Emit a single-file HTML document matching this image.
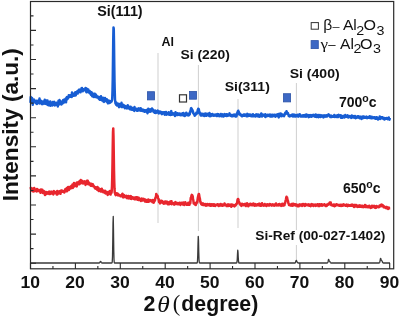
<!DOCTYPE html>
<html><head><meta charset="utf-8"><style>
html,body{margin:0;padding:0;background:#fff;width:400px;height:318px;overflow:hidden}
svg{display:block}
</style></head><body>
<svg width="400" height="318" viewBox="0 0 400 318">
<g stroke="#cfcfcf" stroke-width="1" fill="none">
<path d="M158 53V223"/><path d="M198.4 65V231"/><path d="M238 99V228"/><path d="M296.4 83V260"/>
</g>
<rect x="254" y="230" width="133" height="15" fill="#fff"/>
<path d="M30.50 102.9L30.75 97.1L31.00 100.9L31.25 99.7L31.50 99.9L31.75 100.2L32.00 98.0L32.25 100.3L32.50 99.5L32.75 104.8L33.00 101.0L33.25 100.3L33.50 100.5L33.75 100.0L34.00 99.6L34.25 100.5L34.50 101.6L34.75 100.8L35.00 102.3L35.25 100.9L35.50 101.3L35.75 103.2L36.00 102.0L36.25 100.8L36.50 101.2L36.75 102.2L37.00 104.0L37.25 101.3L37.50 101.4L37.75 103.0L38.00 100.7L38.25 101.5L38.50 103.0L38.75 102.6L39.00 102.1L39.25 102.9L39.50 98.6L39.75 103.4L40.00 101.0L40.25 100.1L40.50 102.6L40.75 103.2L41.00 101.8L41.25 101.0L41.50 102.4L41.75 102.4L42.00 104.2L42.25 103.4L42.50 102.8L42.75 104.0L43.00 102.4L43.25 101.5L43.50 103.4L43.75 103.4L44.00 102.5L44.25 101.8L44.50 103.1L44.75 99.8L45.00 103.7L45.25 103.5L45.50 101.0L45.75 103.1L46.00 101.9L46.25 104.0L46.50 100.6L46.75 102.0L47.00 104.0L47.25 104.6L47.50 100.6L47.75 102.7L48.00 103.7L48.25 102.6L48.50 105.3L48.75 102.0L49.00 103.9L49.25 102.2L49.50 105.2L49.75 103.5L50.00 103.1L50.25 101.5L50.50 105.7L50.75 104.6L51.00 104.6L51.25 105.1L51.50 104.2L51.75 103.0L52.00 102.8L52.25 102.9L52.50 105.5L52.75 102.1L53.00 103.2L53.25 103.5L53.50 104.2L53.75 104.6L54.00 102.4L54.25 101.9L54.50 103.9L54.75 105.4L55.00 104.8L55.25 104.1L55.50 103.5L55.75 104.2L56.00 103.5L56.25 104.7L56.50 102.7L56.75 103.8L57.00 103.4L57.25 104.2L57.50 103.7L57.75 106.4L58.00 105.1L58.25 105.0L58.50 100.7L58.75 102.7L59.00 102.3L59.25 103.6L59.50 100.1L59.75 104.2L60.00 103.9L60.25 101.0L60.50 101.3L60.75 101.4L61.00 102.3L61.25 102.9L61.50 104.5L61.75 101.7L62.00 102.7L62.25 101.9L62.50 103.6L62.75 102.3L63.00 102.9L63.25 99.9L63.50 100.8L63.75 99.9L64.00 102.5L64.25 101.4L64.50 100.1L64.75 99.7L65.00 100.7L65.25 99.1L65.50 98.7L65.75 100.1L66.00 102.3L66.25 98.9L66.50 98.3L66.75 97.4L67.00 97.0L67.25 99.0L67.50 99.1L67.75 97.9L68.00 98.1L68.25 97.6L68.50 97.5L68.75 95.3L69.00 96.4L69.25 96.8L69.50 95.6L69.75 95.8L70.00 95.2L70.25 95.6L70.50 96.8L70.75 95.2L71.00 95.3L71.25 96.3L71.50 95.9L71.75 97.0L72.00 92.5L72.25 95.8L72.50 94.1L72.75 94.7L73.00 95.3L73.25 95.5L73.50 95.3L73.75 94.1L74.00 95.7L74.25 93.4L74.50 93.4L74.75 94.3L75.00 92.6L75.25 95.6L75.50 94.2L75.75 95.4L76.00 92.7L76.25 92.1L76.50 92.6L76.75 93.1L77.00 91.5L77.25 92.4L77.50 91.8L77.75 93.6L78.00 90.8L78.25 92.6L78.50 90.5L78.75 90.1L79.00 90.2L79.25 89.6L79.50 91.0L79.75 91.9L80.00 90.8L80.25 91.2L80.50 92.3L80.75 90.7L81.00 90.5L81.25 89.9L81.50 88.3L81.75 91.0L82.00 88.1L82.25 90.8L82.50 90.1L82.75 91.3L83.00 90.0L83.25 89.1L83.50 90.5L83.75 89.5L84.00 89.9L84.25 90.2L84.50 90.0L84.75 90.0L85.00 89.3L85.25 90.1L85.50 88.0L85.75 90.3L86.00 89.2L86.25 91.9L86.50 92.2L86.75 88.7L87.00 91.2L87.25 91.0L87.50 90.0L87.75 92.0L88.00 91.0L88.25 89.6L88.50 91.5L88.75 91.7L89.00 92.1L89.25 90.8L89.50 93.0L89.75 93.2L90.00 91.3L90.25 91.9L90.50 92.7L90.75 92.3L91.00 95.0L91.25 93.4L91.50 92.2L91.75 92.6L92.00 93.5L92.25 96.3L92.50 93.6L92.75 94.1L93.00 94.6L93.25 94.2L93.50 96.9L93.75 93.9L94.00 95.4L94.25 94.9L94.50 95.5L94.75 93.7L95.00 97.1L95.25 95.1L95.50 95.4L95.75 94.5L96.00 94.8L96.25 96.4L96.50 97.0L96.75 96.9L97.00 97.5L97.25 97.1L97.50 96.5L97.75 97.5L98.00 97.4L98.25 96.8L98.50 97.8L98.75 98.6L99.00 97.5L99.25 97.0L99.50 98.3L99.75 99.8L100.00 97.6L100.25 97.9L100.50 97.9L100.75 99.6L101.00 96.3L101.25 98.9L101.50 99.9L101.75 97.8L102.00 100.5L102.25 99.6L102.50 98.5L102.75 99.5L103.00 97.7L103.25 98.9L103.50 101.6L103.75 98.8L104.00 101.9L104.25 99.9L104.50 101.2L104.75 100.3L105.00 97.9L105.25 99.8L105.50 100.8L105.75 99.4L106.00 99.3L106.25 101.3L106.50 100.3L106.75 99.3L107.00 100.5L107.25 102.3L107.50 100.9L107.75 102.5L108.00 103.3L108.25 101.8L108.50 100.6L108.75 100.5L109.00 102.0L109.25 103.0L109.50 102.4L109.75 102.8L110.00 101.8L110.25 102.6L110.50 101.8L110.75 102.0L111.00 101.1L111.25 100.9L111.50 101.6L111.75 100.9L112.00 100.1L112.25 98.1L112.50 91.1L112.75 79.4L113.00 59.9L113.25 39.6L113.50 27.5L113.75 29.0L114.00 43.5L114.25 64.4L114.50 81.6L114.75 92.1L115.00 99.7L115.25 101.4L115.50 103.7L115.75 102.6L116.00 102.4L116.25 105.0L116.50 102.8L116.75 104.1L117.00 105.5L117.25 104.3L117.50 104.2L117.75 104.5L118.00 105.4L118.25 103.7L118.50 105.3L118.75 105.3L119.00 107.2L119.25 104.5L119.50 104.0L119.75 105.8L120.00 104.6L120.25 105.4L120.50 105.3L120.75 106.5L121.00 104.6L121.25 105.3L121.50 102.8L121.75 104.6L122.00 107.2L122.25 105.0L122.50 105.0L122.75 104.6L123.00 106.5L123.25 106.2L123.50 104.9L123.75 106.8L124.00 106.5L124.25 107.1L124.50 105.7L124.75 108.2L125.00 106.9L125.25 106.5L125.50 106.1L125.75 106.5L126.00 107.7L126.25 106.6L126.50 108.0L126.75 107.6L127.00 108.4L127.25 108.0L127.50 107.1L127.75 105.3L128.00 107.6L128.25 108.2L128.50 107.6L128.75 108.1L129.00 107.1L129.25 107.3L129.50 106.8L129.75 109.2L130.00 108.0L130.25 107.4L130.50 106.7L130.75 107.9L131.00 109.6L131.25 108.7L131.50 107.5L131.75 109.7L132.00 109.8L132.25 109.4L132.50 109.3L132.75 109.7L133.00 109.2L133.25 109.5L133.50 108.0L133.75 110.3L134.00 109.1L134.25 110.9L134.50 107.0L134.75 109.8L135.00 110.1L135.25 108.8L135.50 109.7L135.75 110.0L136.00 109.9L136.25 108.8L136.50 109.2L136.75 110.4L137.00 110.7L137.25 109.6L137.50 109.6L137.75 109.8L138.00 110.6L138.25 108.6L138.50 108.4L138.75 109.8L139.00 108.7L139.25 109.2L139.50 109.9L139.75 110.3L140.00 108.9L140.25 110.7L140.50 108.3L140.75 110.5L141.00 108.5L141.25 108.9L141.50 110.7L141.75 109.7L142.00 109.4L142.25 109.8L142.50 110.7L142.75 110.2L143.00 110.3L143.25 111.3L143.50 109.7L143.75 110.0L144.00 110.0L144.25 111.6L144.50 111.4L144.75 111.7L145.00 110.5L145.25 110.5L145.50 111.4L145.75 110.3L146.00 111.4L146.25 111.4L146.50 110.1L146.75 110.7L147.00 110.7L147.25 112.4L147.50 113.2L147.75 110.8L148.00 110.9L148.25 108.8L148.50 111.1L148.75 111.0L149.00 110.0L149.25 111.7L149.50 109.6L149.75 110.8L150.00 111.1L150.25 109.9L150.50 111.7L150.75 111.7L151.00 109.3L151.25 109.1L151.50 110.6L151.75 109.8L152.00 108.5L152.25 109.2L152.50 109.3L152.75 109.4L153.00 110.5L153.25 110.4L153.50 111.9L153.75 111.9L154.00 111.6L154.25 112.2L154.50 112.6L154.75 112.2L155.00 110.6L155.25 112.4L155.50 111.7L155.75 113.0L156.00 111.6L156.25 111.8L156.50 111.5L156.75 112.6L157.00 111.1L157.25 110.7L157.50 111.2L157.75 110.6L158.00 111.3L158.25 111.3L158.50 111.8L158.75 113.4L159.00 111.6L159.25 112.2L159.50 112.1L159.75 113.0L160.00 111.5L160.25 112.0L160.50 112.6L160.75 113.1L161.00 112.7L161.25 112.3L161.50 112.1L161.75 113.3L162.00 114.1L162.25 113.2L162.50 113.1L162.75 113.3L163.00 112.2L163.25 112.8L163.50 112.8L163.75 113.3L164.00 113.1L164.25 112.2L164.50 114.1L164.75 114.6L165.00 113.0L165.25 113.6L165.50 113.5L165.75 114.0L166.00 112.1L166.25 114.7L166.50 113.0L166.75 114.4L167.00 113.5L167.25 113.1L167.50 113.4L167.75 114.2L168.00 112.8L168.25 113.2L168.50 113.2L168.75 112.2L169.00 114.7L169.25 114.1L169.50 113.6L169.75 114.6L170.00 112.9L170.25 113.6L170.50 115.1L170.75 114.5L171.00 112.0L171.25 111.1L171.50 113.0L171.75 114.7L172.00 113.5L172.25 113.7L172.50 114.3L172.75 113.2L173.00 114.1L173.25 114.5L173.50 114.3L173.75 114.2L174.00 113.5L174.25 114.4L174.50 113.6L174.75 115.0L175.00 116.0L175.25 113.4L175.50 112.3L175.75 113.7L176.00 114.3L176.25 114.9L176.50 114.9L176.75 113.5L177.00 113.5L177.25 115.1L177.50 113.3L177.75 115.0L178.00 114.0L178.25 114.8L178.50 114.7L178.75 114.8L179.00 114.8L179.25 113.5L179.50 114.5L179.75 114.3L180.00 114.5L180.25 115.2L180.50 114.1L180.75 113.8L181.00 113.8L181.25 114.1L181.50 114.9L181.75 113.7L182.00 115.2L182.25 114.6L182.50 114.2L182.75 113.4L183.00 114.5L183.25 114.9L183.50 113.1L183.75 115.2L184.00 115.6L184.25 114.6L184.50 114.7L184.75 116.1L185.00 115.3L185.25 113.7L185.50 114.4L185.75 114.3L186.00 114.3L186.25 112.7L186.50 115.0L186.75 114.0L187.00 114.5L187.25 114.3L187.50 115.1L187.75 114.2L188.00 113.9L188.25 114.8L188.50 115.4L188.75 114.1L189.00 115.2L189.25 114.2L189.50 113.3L189.75 114.3L190.00 112.0L190.25 112.5L190.50 110.5L190.75 110.3L191.00 108.4L191.25 108.1L191.50 109.3L191.75 108.8L192.00 109.3L192.25 109.7L192.50 111.2L192.75 110.9L193.00 111.8L193.25 113.2L193.50 113.2L193.75 113.6L194.00 114.3L194.25 114.4L194.50 114.4L194.75 115.7L195.00 115.3L195.25 115.4L195.50 114.5L195.75 114.2L196.00 113.4L196.25 114.0L196.50 112.5L196.75 113.1L197.00 113.4L197.25 113.2L197.50 111.9L197.75 109.9L198.00 110.1L198.25 108.8L198.50 109.7L198.75 109.2L199.00 110.3L199.25 112.2L199.50 111.9L199.75 113.7L200.00 113.0L200.25 113.3L200.50 114.9L200.75 115.4L201.00 114.2L201.25 114.7L201.50 113.8L201.75 114.6L202.00 115.4L202.25 114.7L202.50 114.4L202.75 113.9L203.00 115.1L203.25 115.4L203.50 115.2L203.75 115.0L204.00 114.0L204.25 116.0L204.50 114.8L204.75 114.8L205.00 115.4L205.25 113.5L205.50 114.8L205.75 114.8L206.00 115.1L206.25 115.8L206.50 115.2L206.75 113.7L207.00 114.7L207.25 115.1L207.50 115.0L207.75 114.1L208.00 113.9L208.25 115.3L208.50 115.2L208.75 114.9L209.00 113.8L209.25 116.1L209.50 113.1L209.75 114.7L210.00 116.3L210.25 114.9L210.50 115.1L210.75 114.2L211.00 115.9L211.25 114.2L211.50 115.2L211.75 115.1L212.00 114.3L212.25 115.6L212.50 114.1L212.75 114.6L213.00 115.0L213.25 114.8L213.50 115.3L213.75 115.6L214.00 114.9L214.25 114.7L214.50 114.7L214.75 114.8L215.00 115.6L215.25 114.9L215.50 115.3L215.75 115.0L216.00 114.5L216.25 115.7L216.50 114.4L216.75 115.1L217.00 116.1L217.25 114.4L217.50 115.1L217.75 114.1L218.00 114.8L218.25 114.2L218.50 114.9L218.75 114.8L219.00 115.2L219.25 116.2L219.50 115.3L219.75 115.6L220.00 115.1L220.25 115.0L220.50 114.6L220.75 114.0L221.00 115.2L221.25 116.3L221.50 115.5L221.75 114.9L222.00 116.3L222.25 114.9L222.50 114.8L222.75 114.4L223.00 114.6L223.25 115.1L223.50 116.5L223.75 115.1L224.00 114.6L224.25 114.9L224.50 115.1L224.75 114.1L225.00 115.3L225.25 115.7L225.50 115.5L225.75 115.7L226.00 114.4L226.25 114.2L226.50 116.1L226.75 116.0L227.00 114.3L227.25 115.4L227.50 115.3L227.75 115.7L228.00 115.5L228.25 115.0L228.50 115.5L228.75 115.4L229.00 115.3L229.25 114.1L229.50 113.4L229.75 114.8L230.00 114.3L230.25 115.5L230.50 115.8L230.75 115.5L231.00 115.1L231.25 115.4L231.50 116.1L231.75 114.9L232.00 116.0L232.25 115.8L232.50 115.5L232.75 116.3L233.00 114.9L233.25 116.0L233.50 114.8L233.75 114.9L234.00 114.7L234.25 115.7L234.50 114.7L234.75 115.4L235.00 114.6L235.25 116.1L235.50 116.5L235.75 115.5L236.00 116.3L236.25 115.5L236.50 116.4L236.75 114.7L237.00 113.2L237.25 114.6L237.50 112.8L237.75 111.6L238.00 111.4L238.25 110.7L238.50 111.9L238.75 111.8L239.00 114.1L239.25 114.3L239.50 113.3L239.75 113.8L240.00 114.7L240.25 114.0L240.50 115.2L240.75 115.3L241.00 114.8L241.25 115.0L241.50 115.7L241.75 116.3L242.00 116.3L242.25 115.4L242.50 115.9L242.75 114.9L243.00 115.6L243.25 114.7L243.50 115.8L243.75 114.5L244.00 114.7L244.25 115.4L244.50 115.7L244.75 114.4L245.00 115.0L245.25 115.4L245.50 115.5L245.75 114.8L246.00 115.4L246.25 115.2L246.50 116.3L246.75 115.7L247.00 114.5L247.25 113.9L247.50 115.4L247.75 116.1L248.00 115.5L248.25 115.9L248.50 115.0L248.75 114.5L249.00 115.8L249.25 115.4L249.50 115.8L249.75 114.5L250.00 115.5L250.25 114.9L250.50 115.9L250.75 115.0L251.00 115.0L251.25 115.0L251.50 116.2L251.75 115.4L252.00 114.9L252.25 114.7L252.50 114.7L252.75 116.3L253.00 114.2L253.25 114.8L253.50 115.8L253.75 116.1L254.00 115.3L254.25 115.9L254.50 115.8L254.75 116.0L255.00 115.4L255.25 116.4L255.50 115.5L255.75 116.4L256.00 114.6L256.25 116.0L256.50 114.5L256.75 114.4L257.00 115.7L257.25 114.8L257.50 115.7L257.75 114.7L258.00 116.4L258.25 115.4L258.50 114.6L258.75 115.5L259.00 115.9L259.25 114.9L259.50 115.7L259.75 116.7L260.00 115.9L260.25 115.4L260.50 115.0L260.75 115.8L261.00 114.4L261.25 113.4L261.50 114.9L261.75 114.7L262.00 116.5L262.25 115.5L262.50 114.7L262.75 114.6L263.00 115.7L263.25 114.8L263.50 115.0L263.75 115.3L264.00 115.4L264.25 115.4L264.50 115.5L264.75 116.2L265.00 116.5L265.25 114.3L265.50 117.1L265.75 115.5L266.00 116.2L266.25 114.9L266.50 115.6L266.75 115.5L267.00 115.5L267.25 115.9L267.50 115.8L267.75 114.7L268.00 115.3L268.25 115.9L268.50 115.8L268.75 115.2L269.00 115.2L269.25 115.3L269.50 114.7L269.75 114.6L270.00 116.4L270.25 115.1L270.50 115.5L270.75 114.9L271.00 116.2L271.25 116.5L271.50 115.2L271.75 115.7L272.00 114.9L272.25 116.5L272.50 116.0L272.75 114.8L273.00 116.2L273.25 115.6L273.50 115.7L273.75 115.6L274.00 115.0L274.25 115.0L274.50 115.8L274.75 115.4L275.00 114.8L275.25 116.7L275.50 115.3L275.75 115.0L276.00 114.9L276.25 115.9L276.50 116.0L276.75 115.6L277.00 116.0L277.25 114.4L277.50 115.2L277.75 115.1L278.00 115.4L278.25 115.7L278.50 114.1L278.75 117.5L279.00 114.9L279.25 115.7L279.50 116.0L279.75 116.0L280.00 115.6L280.25 113.6L280.50 114.8L280.75 116.0L281.00 114.9L281.25 114.8L281.50 113.9L281.75 116.3L282.00 115.8L282.25 114.9L282.50 115.4L282.75 115.4L283.00 114.7L283.25 115.3L283.50 115.6L283.75 115.7L284.00 116.1L284.25 115.2L284.50 114.6L284.75 114.8L285.00 113.7L285.25 112.8L285.50 113.9L285.75 112.4L286.00 112.3L286.25 112.4L286.50 111.2L286.75 112.6L287.00 112.8L287.25 113.0L287.50 113.8L287.75 113.6L288.00 113.1L288.25 114.7L288.50 114.6L288.75 115.9L289.00 115.6L289.25 115.2L289.50 115.6L289.75 116.4L290.00 116.3L290.25 115.8L290.50 115.9L290.75 115.4L291.00 115.5L291.25 116.0L291.50 115.5L291.75 115.8L292.00 114.9L292.25 114.5L292.50 114.5L292.75 115.3L293.00 116.5L293.25 116.4L293.50 115.0L293.75 114.6L294.00 116.2L294.25 115.9L294.50 114.8L294.75 116.3L295.00 115.8L295.25 116.5L295.50 115.9L295.75 116.2L296.00 115.9L296.25 115.1L296.50 115.5L296.75 115.2L297.00 116.2L297.25 115.0L297.50 114.7L297.75 116.1L298.00 116.4L298.25 116.6L298.50 116.4L298.75 114.7L299.00 115.3L299.25 115.4L299.50 115.7L299.75 114.3L300.00 115.7L300.25 115.9L300.50 115.1L300.75 115.8L301.00 116.5L301.25 115.8L301.50 116.4L301.75 116.4L302.00 116.0L302.25 116.0L302.50 115.5L302.75 116.6L303.00 115.5L303.25 115.3L303.50 116.2L303.75 115.3L304.00 116.1L304.25 116.5L304.50 115.8L304.75 115.9L305.00 116.4L305.25 116.3L305.50 114.8L305.75 115.0L306.00 116.7L306.25 116.1L306.50 114.5L306.75 114.9L307.00 115.8L307.25 115.2L307.50 116.1L307.75 115.9L308.00 116.2L308.25 115.1L308.50 116.2L308.75 117.1L309.00 115.3L309.25 116.7L309.50 116.5L309.75 116.3L310.00 115.8L310.25 115.1L310.50 115.3L310.75 116.4L311.00 116.5L311.25 116.7L311.50 116.5L311.75 116.5L312.00 115.6L312.25 115.1L312.50 116.0L312.75 116.2L313.00 116.0L313.25 114.9L313.50 115.6L313.75 115.0L314.00 116.0L314.25 115.2L314.50 115.8L314.75 116.1L315.00 116.0L315.25 116.8L315.50 115.2L315.75 114.5L316.00 116.6L316.25 116.9L316.50 116.9L316.75 116.1L317.00 116.3L317.25 116.0L317.50 115.1L317.75 115.6L318.00 116.3L318.25 115.6L318.50 117.2L318.75 115.0L319.00 115.7L319.25 116.7L319.50 115.6L319.75 115.3L320.00 115.1L320.25 115.5L320.50 117.0L320.75 116.3L321.00 116.3L321.25 115.7L321.50 116.6L321.75 116.1L322.00 115.4L322.25 115.7L322.50 116.2L322.75 116.8L323.00 116.0L323.25 116.4L323.50 117.4L323.75 115.5L324.00 115.2L324.25 116.7L324.50 116.3L324.75 116.0L325.00 116.2L325.25 115.9L325.50 116.4L325.75 115.9L326.00 116.6L326.25 115.3L326.50 115.5L326.75 116.1L327.00 115.7L327.25 116.4L327.50 115.8L327.75 115.4L328.00 115.8L328.25 115.2L328.50 114.4L328.75 114.6L329.00 114.8L329.25 115.0L329.50 115.5L329.75 116.1L330.00 116.0L330.25 116.9L330.50 116.7L330.75 115.8L331.00 117.1L331.25 116.9L331.50 115.8L331.75 116.3L332.00 116.9L332.25 116.3L332.50 116.8L332.75 116.4L333.00 116.6L333.25 116.0L333.50 116.4L333.75 115.9L334.00 116.6L334.25 115.1L334.50 116.4L334.75 117.0L335.00 116.6L335.25 116.2L335.50 116.6L335.75 115.7L336.00 115.7L336.25 116.0L336.50 116.1L336.75 116.9L337.00 115.6L337.25 116.9L337.50 115.2L337.75 115.7L338.00 116.2L338.25 117.0L338.50 115.8L338.75 114.9L339.00 116.5L339.25 116.2L339.50 115.6L339.75 115.6L340.00 115.8L340.25 116.3L340.50 116.7L340.75 115.3L341.00 117.8L341.25 116.3L341.50 116.1L341.75 116.7L342.00 116.4L342.25 117.8L342.50 117.0L342.75 116.1L343.00 116.1L343.25 116.0L343.50 116.1L343.75 116.8L344.00 115.9L344.25 117.4L344.50 116.3L344.75 116.3L345.00 117.0L345.25 115.1L345.50 115.8L345.75 116.8L346.00 116.4L346.25 116.4L346.50 116.7L346.75 116.1L347.00 116.4L347.25 115.6L347.50 115.3L347.75 117.3L348.00 115.9L348.25 116.1L348.50 117.5L348.75 117.2L349.00 116.2L349.25 116.2L349.50 116.5L349.75 116.0L350.00 117.0L350.25 116.7L350.50 116.7L350.75 117.1L351.00 117.1L351.25 117.9L351.50 117.7L351.75 115.6L352.00 117.3L352.25 116.0L352.50 115.8L352.75 117.2L353.00 116.3L353.25 116.6L353.50 117.5L353.75 116.4L354.00 116.2L354.25 117.0L354.50 117.6L354.75 117.2L355.00 115.9L355.25 116.5L355.50 116.8L355.75 118.2L356.00 117.5L356.25 117.5L356.50 117.7L356.75 116.8L357.00 117.3L357.25 117.3L357.50 116.4L357.75 117.0L358.00 117.4L358.25 116.3L358.50 117.6L358.75 117.5L359.00 117.7L359.25 116.6L359.50 117.2L359.75 118.1L360.00 117.6L360.25 116.6L360.50 117.3L360.75 118.1L361.00 117.1L361.25 117.4L361.50 118.9L361.75 117.2L362.00 117.1L362.25 116.6L362.50 116.8L362.75 118.2L363.00 117.2L363.25 116.5L363.50 116.7L363.75 117.3L364.00 117.8L364.25 116.8L364.50 117.8L364.75 117.0L365.00 117.6L365.25 117.7L365.50 117.8L365.75 117.1L366.00 117.3L366.25 117.8L366.50 116.6L366.75 117.6L367.00 117.8L367.25 118.1L367.50 117.5L367.75 117.4L368.00 117.6L368.25 117.0L368.50 117.4L368.75 117.8L369.00 117.7L369.25 116.9L369.50 117.4L369.75 116.2L370.00 118.1L370.25 117.3L370.50 117.8L370.75 116.9L371.00 117.6L371.25 117.9L371.50 118.3L371.75 116.8L372.00 118.2L372.25 117.6L372.50 117.2L372.75 118.0L373.00 117.5L373.25 117.6L373.50 117.3L373.75 117.9L374.00 117.8L374.25 117.7L374.50 117.2L374.75 117.5L375.00 118.1L375.25 118.7L375.50 117.8L375.75 118.8L376.00 117.9L376.25 117.2L376.50 118.3L376.75 117.3L377.00 118.2L377.25 118.6L377.50 117.8L377.75 117.9L378.00 119.6L378.25 118.2L378.50 118.2L378.75 118.5L379.00 118.0L379.25 118.0L379.50 118.3L379.75 116.5L380.00 119.0L380.25 117.4L380.50 117.4L380.75 118.5L381.00 118.2L381.25 117.3L381.50 118.3L381.75 117.4L382.00 117.7L382.25 117.2L382.50 117.7L382.75 118.5L383.00 118.3L383.25 118.5L383.50 118.9L383.75 118.2L384.00 117.9L384.25 118.1L384.50 119.4L384.75 118.3L385.00 118.5L385.25 118.3L385.50 118.5L385.75 118.7L386.00 118.4L386.25 118.3L386.50 117.9L386.75 117.9L387.00 118.7L387.25 118.9L387.50 119.1L387.75 118.5L388.00 118.0L388.25 118.9L388.50 118.9L388.75 117.5L389.00 119.1L389.25 118.9L389.50 119.6L389.75 117.8L390.00 117.7" fill="none" stroke="#175dd3" stroke-width="2.5" stroke-linejoin="round"/>
<path d="M30.50 188.3L30.75 187.8L31.00 188.9L31.25 189.7L31.50 190.5L31.75 189.5L32.00 188.8L32.25 188.6L32.50 190.3L32.75 191.3L33.00 189.9L33.25 188.4L33.50 188.8L33.75 191.6L34.00 190.1L34.25 188.1L34.50 190.0L34.75 188.9L35.00 189.5L35.25 189.7L35.50 189.6L35.75 191.0L36.00 190.4L36.25 189.9L36.50 191.0L36.75 191.5L37.00 189.0L37.25 190.5L37.50 189.8L37.75 190.7L38.00 189.6L38.25 191.1L38.50 191.1L38.75 190.8L39.00 190.1L39.25 190.9L39.50 190.2L39.75 190.0L40.00 191.7L40.25 190.3L40.50 192.8L40.75 192.4L41.00 189.6L41.25 192.0L41.50 190.6L41.75 191.9L42.00 191.9L42.25 189.8L42.50 191.7L42.75 191.7L43.00 193.1L43.25 190.9L43.50 192.9L43.75 191.1L44.00 191.9L44.25 191.4L44.50 193.9L44.75 193.0L45.00 195.0L45.25 193.2L45.50 193.4L45.75 193.4L46.00 192.0L46.25 192.6L46.50 194.1L46.75 192.3L47.00 193.0L47.25 192.8L47.50 193.5L47.75 192.5L48.00 192.7L48.25 193.2L48.50 193.0L48.75 192.1L49.00 193.9L49.25 191.6L49.50 191.7L49.75 191.7L50.00 194.0L50.25 192.6L50.50 192.0L50.75 191.8L51.00 193.4L51.25 191.9L51.50 191.7L51.75 193.6L52.00 191.8L52.25 192.7L52.50 193.0L52.75 192.5L53.00 192.9L53.25 194.4L53.50 192.5L53.75 191.7L54.00 191.1L54.25 192.8L54.50 192.6L54.75 193.2L55.00 192.4L55.25 192.4L55.50 192.1L55.75 192.3L56.00 193.0L56.25 192.4L56.50 192.9L56.75 194.6L57.00 193.2L57.25 191.0L57.50 194.4L57.75 192.9L58.00 191.6L58.25 193.4L58.50 192.4L58.75 191.8L59.00 191.7L59.25 191.3L59.50 192.3L59.75 193.2L60.00 191.8L60.25 192.4L60.50 193.8L60.75 190.7L61.00 192.1L61.25 191.4L61.50 190.6L61.75 190.5L62.00 191.5L62.25 191.8L62.50 190.8L62.75 191.3L63.00 191.8L63.25 191.3L63.50 191.8L63.75 191.3L64.00 191.2L64.25 192.5L64.50 191.2L64.75 190.5L65.00 191.0L65.25 189.3L65.50 189.7L65.75 190.8L66.00 190.5L66.25 191.3L66.50 189.6L66.75 188.0L67.00 191.3L67.25 190.3L67.50 188.0L67.75 190.3L68.00 188.9L68.25 186.9L68.50 188.2L68.75 187.9L69.00 189.9L69.25 187.4L69.50 187.8L69.75 187.6L70.00 187.4L70.25 186.7L70.50 187.7L70.75 188.4L71.00 187.8L71.25 186.1L71.50 185.7L71.75 186.8L72.00 185.8L72.25 185.7L72.50 184.5L72.75 188.0L73.00 186.8L73.25 184.8L73.50 186.5L73.75 186.7L74.00 182.9L74.25 184.6L74.50 184.6L74.75 185.4L75.00 184.5L75.25 184.3L75.50 184.3L75.75 186.1L76.00 186.2L76.25 183.5L76.50 182.9L76.75 186.4L77.00 182.6L77.25 182.9L77.50 183.4L77.75 183.7L78.00 184.1L78.25 183.3L78.50 182.0L78.75 183.2L79.00 182.8L79.25 184.3L79.50 182.4L79.75 181.0L80.00 181.2L80.25 183.5L80.50 181.5L80.75 179.9L81.00 181.3L81.25 181.9L81.50 183.0L81.75 180.8L82.00 182.4L82.25 182.5L82.50 181.1L82.75 181.6L83.00 183.5L83.25 183.5L83.50 182.7L83.75 182.2L84.00 183.0L84.25 181.8L84.50 181.9L84.75 181.3L85.00 182.2L85.25 182.1L85.50 184.9L85.75 182.2L86.00 183.7L86.25 183.8L86.50 182.4L86.75 183.8L87.00 180.7L87.25 183.0L87.50 183.8L87.75 180.8L88.00 182.1L88.25 184.3L88.50 183.1L88.75 182.5L89.00 183.3L89.25 183.2L89.50 184.5L89.75 184.4L90.00 183.8L90.25 183.6L90.50 184.3L90.75 185.8L91.00 185.0L91.25 185.4L91.50 184.8L91.75 183.9L92.00 184.6L92.25 186.0L92.50 185.7L92.75 184.9L93.00 184.4L93.25 186.2L93.50 185.9L93.75 186.0L94.00 186.2L94.25 187.0L94.50 187.1L94.75 187.9L95.00 188.0L95.25 188.6L95.50 188.2L95.75 187.3L96.00 187.7L96.25 188.4L96.50 187.8L96.75 188.8L97.00 189.5L97.25 187.8L97.50 187.0L97.75 190.0L98.00 189.0L98.25 189.8L98.50 188.1L98.75 191.1L99.00 190.3L99.25 189.6L99.50 189.5L99.75 190.1L100.00 190.0L100.25 190.0L100.50 189.3L100.75 191.6L101.00 190.5L101.25 190.8L101.50 190.9L101.75 188.7L102.00 191.5L102.25 190.8L102.50 190.9L102.75 191.3L103.00 190.5L103.25 192.2L103.50 190.9L103.75 190.8L104.00 190.9L104.25 192.0L104.50 192.6L104.75 191.5L105.00 190.7L105.25 193.2L105.50 191.3L105.75 193.5L106.00 192.4L106.25 191.9L106.50 192.0L106.75 193.1L107.00 193.6L107.25 192.6L107.50 193.8L107.75 194.9L108.00 192.8L108.25 192.0L108.50 192.1L108.75 191.9L109.00 192.6L109.25 192.6L109.50 192.0L109.75 193.7L110.00 191.0L110.25 192.1L110.50 194.6L110.75 193.7L111.00 193.2L111.25 192.9L111.50 192.9L111.75 190.5L112.00 186.2L112.25 177.1L112.50 163.4L112.75 146.1L113.00 132.1L113.25 128.4L113.50 137.1L113.75 153.3L114.00 170.2L114.25 181.6L114.50 188.7L114.75 192.7L115.00 193.1L115.25 194.3L115.50 194.6L115.75 195.1L116.00 194.9L116.25 193.3L116.50 194.4L116.75 194.4L117.00 193.5L117.25 194.5L117.50 193.9L117.75 193.6L118.00 195.4L118.25 195.2L118.50 194.7L118.75 194.5L119.00 194.9L119.25 195.1L119.50 195.2L119.75 195.5L120.00 195.2L120.25 196.0L120.50 196.2L120.75 196.1L121.00 195.2L121.25 195.3L121.50 196.3L121.75 195.8L122.00 195.9L122.25 193.8L122.50 193.7L122.75 196.4L123.00 196.4L123.25 197.4L123.50 196.9L123.75 196.5L124.00 196.3L124.25 195.1L124.50 197.1L124.75 195.9L125.00 196.9L125.25 196.7L125.50 196.8L125.75 197.3L126.00 196.2L126.25 196.3L126.50 195.9L126.75 196.4L127.00 198.2L127.25 196.5L127.50 197.8L127.75 197.6L128.00 197.5L128.25 197.6L128.50 196.1L128.75 197.3L129.00 198.4L129.25 196.5L129.50 197.1L129.75 196.6L130.00 197.5L130.25 196.3L130.50 198.7L130.75 197.0L131.00 196.1L131.25 198.9L131.50 198.3L131.75 198.0L132.00 198.0L132.25 197.3L132.50 197.5L132.75 198.3L133.00 198.5L133.25 198.6L133.50 198.1L133.75 197.5L134.00 197.8L134.25 199.0L134.50 199.3L134.75 197.8L135.00 197.8L135.25 199.3L135.50 198.9L135.75 198.9L136.00 197.3L136.25 198.1L136.50 198.1L136.75 198.7L137.00 197.2L137.25 199.7L137.50 198.9L137.75 199.1L138.00 197.8L138.25 198.8L138.50 200.0L138.75 197.7L139.00 199.2L139.25 199.6L139.50 198.5L139.75 199.8L140.00 198.9L140.25 200.2L140.50 199.7L140.75 199.5L141.00 201.0L141.25 200.1L141.50 200.5L141.75 198.6L142.00 199.1L142.25 200.3L142.50 200.4L142.75 199.7L143.00 200.4L143.25 199.0L143.50 200.1L143.75 199.0L144.00 200.2L144.25 199.6L144.50 199.6L144.75 200.1L145.00 201.6L145.25 199.4L145.50 199.7L145.75 201.1L146.00 200.0L146.25 201.7L146.50 200.5L146.75 200.5L147.00 200.7L147.25 201.8L147.50 201.0L147.75 200.9L148.00 200.7L148.25 199.4L148.50 199.9L148.75 201.8L149.00 201.3L149.25 201.1L149.50 201.2L149.75 200.3L150.00 201.0L150.25 200.1L150.50 201.1L150.75 200.3L151.00 200.8L151.25 201.3L151.50 200.7L151.75 201.5L152.00 201.4L152.25 201.4L152.50 202.1L152.75 200.0L153.00 200.0L153.25 201.7L153.50 201.9L153.75 202.6L154.00 201.6L154.25 201.5L154.50 199.9L154.75 200.8L155.00 200.2L155.25 198.3L155.50 197.6L155.75 197.4L156.00 196.9L156.25 193.9L156.50 195.6L156.75 195.4L157.00 195.1L157.25 195.7L157.50 196.4L157.75 196.1L158.00 198.1L158.25 198.5L158.50 198.8L158.75 200.4L159.00 202.0L159.25 200.3L159.50 200.5L159.75 200.7L160.00 203.4L160.25 201.9L160.50 202.1L160.75 201.6L161.00 201.6L161.25 200.8L161.50 202.4L161.75 202.5L162.00 201.0L162.25 201.7L162.50 201.9L162.75 202.4L163.00 202.7L163.25 203.3L163.50 203.5L163.75 203.3L164.00 203.6L164.25 201.8L164.50 202.3L164.75 203.5L165.00 202.9L165.25 202.8L165.50 201.4L165.75 201.5L166.00 203.3L166.25 203.1L166.50 202.7L166.75 202.6L167.00 201.8L167.25 203.2L167.50 203.7L167.75 204.2L168.00 203.1L168.25 203.0L168.50 202.4L168.75 204.0L169.00 204.3L169.25 202.8L169.50 203.4L169.75 203.3L170.00 202.9L170.25 201.6L170.50 203.1L170.75 203.8L171.00 202.4L171.25 202.8L171.50 201.2L171.75 204.3L172.00 203.8L172.25 203.5L172.50 203.3L172.75 203.1L173.00 203.5L173.25 203.3L173.50 203.4L173.75 203.6L174.00 203.7L174.25 204.6L174.50 202.7L174.75 203.8L175.00 203.2L175.25 202.9L175.50 202.1L175.75 204.1L176.00 203.0L176.25 203.2L176.50 204.0L176.75 202.9L177.00 203.7L177.25 203.6L177.50 204.2L177.75 204.3L178.00 203.1L178.25 204.2L178.50 203.6L178.75 203.7L179.00 203.5L179.25 204.1L179.50 202.8L179.75 203.8L180.00 204.3L180.25 203.4L180.50 204.9L180.75 203.1L181.00 203.7L181.25 203.3L181.50 203.2L181.75 202.8L182.00 203.2L182.25 203.5L182.50 203.0L182.75 204.1L183.00 204.5L183.25 202.6L183.50 204.0L183.75 203.6L184.00 203.7L184.25 205.0L184.50 204.3L184.75 203.7L185.00 203.6L185.25 202.2L185.50 204.0L185.75 203.1L186.00 203.6L186.25 203.6L186.50 204.1L186.75 204.8L187.00 204.2L187.25 204.4L187.50 203.4L187.75 203.9L188.00 204.1L188.25 202.7L188.50 204.8L188.75 203.2L189.00 202.8L189.25 204.4L189.50 204.6L189.75 202.5L190.00 202.0L190.25 203.5L190.50 200.6L190.75 198.0L191.00 197.3L191.25 197.4L191.50 195.5L191.75 194.9L192.00 195.1L192.25 195.4L192.50 195.9L192.75 196.6L193.00 199.3L193.25 199.8L193.50 201.6L193.75 203.5L194.00 203.4L194.25 203.6L194.50 203.8L194.75 204.3L195.00 204.5L195.25 203.3L195.50 204.1L195.75 205.0L196.00 204.4L196.25 203.4L196.50 203.2L196.75 202.0L197.00 202.0L197.25 202.4L197.50 200.2L197.75 198.3L198.00 196.9L198.25 195.7L198.50 194.7L198.75 194.1L199.00 194.1L199.25 195.7L199.50 197.5L199.75 198.0L200.00 199.5L200.25 201.9L200.50 201.6L200.75 202.9L201.00 203.5L201.25 204.2L201.50 204.1L201.75 203.9L202.00 204.6L202.25 203.8L202.50 203.5L202.75 203.4L203.00 205.0L203.25 203.6L203.50 204.8L203.75 205.0L204.00 205.1L204.25 204.5L204.50 204.3L204.75 204.7L205.00 204.3L205.25 204.0L205.50 205.4L205.75 204.2L206.00 205.7L206.25 205.0L206.50 204.5L206.75 205.0L207.00 205.4L207.25 204.0L207.50 204.2L207.75 204.2L208.00 204.8L208.25 205.0L208.50 204.8L208.75 204.3L209.00 204.5L209.25 205.4L209.50 205.4L209.75 204.8L210.00 204.1L210.25 205.1L210.50 204.9L210.75 204.9L211.00 205.8L211.25 205.3L211.50 204.3L211.75 204.3L212.00 205.6L212.25 204.9L212.50 205.3L212.75 204.8L213.00 204.3L213.25 205.0L213.50 205.7L213.75 205.1L214.00 204.3L214.25 204.7L214.50 204.6L214.75 205.0L215.00 205.5L215.25 206.0L215.50 205.1L215.75 204.7L216.00 205.0L216.25 205.0L216.50 204.7L216.75 205.0L217.00 205.0L217.25 204.3L217.50 205.3L217.75 204.8L218.00 204.4L218.25 205.3L218.50 204.7L218.75 206.0L219.00 205.3L219.25 205.0L219.50 204.6L219.75 204.8L220.00 205.5L220.25 204.6L220.50 205.4L220.75 203.9L221.00 205.1L221.25 205.5L221.50 205.2L221.75 205.0L222.00 205.6L222.25 204.6L222.50 204.5L222.75 205.1L223.00 205.7L223.25 205.3L223.50 205.0L223.75 205.3L224.00 205.3L224.25 204.4L224.50 203.5L224.75 204.5L225.00 204.3L225.25 204.8L225.50 204.5L225.75 204.6L226.00 205.4L226.25 205.2L226.50 205.1L226.75 206.1L227.00 204.9L227.25 204.9L227.50 205.9L227.75 204.6L228.00 204.3L228.25 205.9L228.50 205.4L228.75 205.5L229.00 205.5L229.25 205.7L229.50 204.9L229.75 205.2L230.00 204.6L230.25 205.3L230.50 205.3L230.75 204.9L231.00 205.6L231.25 206.8L231.50 204.5L231.75 205.6L232.00 205.7L232.25 205.8L232.50 204.7L232.75 205.8L233.00 205.5L233.25 205.1L233.50 205.0L233.75 205.3L234.00 205.7L234.25 205.6L234.50 206.4L234.75 204.9L235.00 205.5L235.25 204.9L235.50 205.5L235.75 205.1L236.00 204.6L236.25 203.9L236.50 203.8L236.75 203.8L237.00 203.6L237.25 202.1L237.50 199.9L237.75 199.3L238.00 199.1L238.25 199.1L238.50 199.8L238.75 201.1L239.00 201.9L239.25 202.5L239.50 202.6L239.75 204.1L240.00 203.7L240.25 204.7L240.50 205.0L240.75 204.1L241.00 204.8L241.25 204.7L241.50 205.9L241.75 205.1L242.00 203.8L242.25 205.1L242.50 205.1L242.75 204.7L243.00 204.6L243.25 205.1L243.50 205.2L243.75 205.0L244.00 204.2L244.25 204.6L244.50 203.9L244.75 203.9L245.00 204.4L245.25 204.1L245.50 204.5L245.75 206.1L246.00 205.0L246.25 204.2L246.50 203.5L246.75 204.2L247.00 203.9L247.25 203.4L247.50 205.1L247.75 204.4L248.00 204.9L248.25 206.3L248.50 204.8L248.75 204.7L249.00 204.8L249.25 204.5L249.50 204.1L249.75 204.5L250.00 205.2L250.25 204.5L250.50 203.8L250.75 203.9L251.00 204.0L251.25 204.6L251.50 204.9L251.75 204.9L252.00 205.3L252.25 204.5L252.50 205.1L252.75 204.8L253.00 205.0L253.25 203.6L253.50 205.3L253.75 203.8L254.00 204.0L254.25 205.1L254.50 204.5L254.75 205.7L255.00 204.8L255.25 204.1L255.50 204.8L255.75 204.5L256.00 205.6L256.25 205.6L256.50 205.1L256.75 204.5L257.00 204.8L257.25 205.3L257.50 204.3L257.75 204.3L258.00 205.2L258.25 205.1L258.50 204.6L258.75 204.6L259.00 203.7L259.25 205.4L259.50 204.7L259.75 203.9L260.00 204.1L260.25 204.3L260.50 205.7L260.75 205.1L261.00 204.0L261.25 205.8L261.50 205.5L261.75 204.2L262.00 203.3L262.25 205.3L262.50 204.4L262.75 204.7L263.00 204.5L263.25 205.5L263.50 205.6L263.75 205.2L264.00 204.7L264.25 204.9L264.50 205.1L264.75 203.9L265.00 205.5L265.25 204.6L265.50 204.9L265.75 204.9L266.00 205.3L266.25 205.4L266.50 206.0L266.75 204.6L267.00 204.3L267.25 204.9L267.50 204.5L267.75 205.3L268.00 204.4L268.25 204.9L268.50 205.4L268.75 205.4L269.00 205.0L269.25 205.6L269.50 205.6L269.75 203.9L270.00 205.1L270.25 205.0L270.50 204.7L270.75 204.5L271.00 204.9L271.25 205.1L271.50 205.0L271.75 205.6L272.00 205.4L272.25 204.5L272.50 204.4L272.75 205.3L273.00 204.5L273.25 205.0L273.50 205.1L273.75 205.4L274.00 205.2L274.25 205.7L274.50 204.6L274.75 205.2L275.00 204.5L275.25 205.0L275.50 204.9L275.75 204.4L276.00 203.4L276.25 205.4L276.50 205.1L276.75 205.0L277.00 204.5L277.25 204.7L277.50 205.1L277.75 204.9L278.00 205.5L278.25 205.0L278.50 204.4L278.75 205.2L279.00 204.5L279.25 205.0L279.50 203.9L279.75 204.7L280.00 205.2L280.25 204.5L280.50 204.9L280.75 205.2L281.00 204.9L281.25 205.9L281.50 204.7L281.75 204.8L282.00 204.8L282.25 203.8L282.50 204.0L282.75 205.2L283.00 204.7L283.25 205.6L283.50 204.8L283.75 204.7L284.00 205.3L284.25 204.7L284.50 205.1L284.75 203.1L285.00 203.3L285.25 202.5L285.50 201.3L285.75 200.4L286.00 199.2L286.25 197.7L286.50 196.8L286.75 197.5L287.00 197.3L287.25 198.6L287.50 199.9L287.75 200.4L288.00 201.0L288.25 202.4L288.50 203.8L288.75 203.8L289.00 205.0L289.25 204.7L289.50 204.9L289.75 204.5L290.00 204.9L290.25 205.5L290.50 204.8L290.75 204.8L291.00 204.5L291.25 205.4L291.50 204.1L291.75 204.6L292.00 205.4L292.25 205.7L292.50 204.8L292.75 205.5L293.00 203.8L293.25 205.4L293.50 205.1L293.75 204.3L294.00 204.0L294.25 204.7L294.50 205.1L294.75 205.1L295.00 205.0L295.25 205.4L295.50 205.3L295.75 204.2L296.00 204.7L296.25 204.7L296.50 205.5L296.75 204.7L297.00 205.5L297.25 205.0L297.50 206.2L297.75 204.9L298.00 205.0L298.25 204.9L298.50 205.0L298.75 206.3L299.00 204.7L299.25 204.5L299.50 204.8L299.75 205.3L300.00 204.4L300.25 205.4L300.50 205.4L300.75 204.9L301.00 204.8L301.25 204.5L301.50 204.8L301.75 204.5L302.00 205.6L302.25 205.9L302.50 204.8L302.75 204.9L303.00 203.9L303.25 204.7L303.50 205.2L303.75 205.1L304.00 205.0L304.25 205.4L304.50 205.0L304.75 204.8L305.00 205.9L305.25 203.9L305.50 204.3L305.75 204.6L306.00 204.6L306.25 204.5L306.50 204.9L306.75 204.6L307.00 204.9L307.25 205.3L307.50 205.0L307.75 205.1L308.00 204.5L308.25 204.4L308.50 204.8L308.75 205.5L309.00 205.2L309.25 205.6L309.50 205.5L309.75 205.6L310.00 204.5L310.25 205.7L310.50 205.4L310.75 206.1L311.00 205.3L311.25 205.2L311.50 204.9L311.75 205.1L312.00 204.1L312.25 204.9L312.50 205.0L312.75 205.6L313.00 204.6L313.25 205.1L313.50 206.0L313.75 204.7L314.00 205.5L314.25 204.7L314.50 205.0L314.75 205.3L315.00 205.5L315.25 204.8L315.50 204.5L315.75 205.9L316.00 205.1L316.25 205.5L316.50 205.5L316.75 205.4L317.00 204.9L317.25 205.0L317.50 204.2L317.75 205.1L318.00 204.8L318.25 205.0L318.50 206.1L318.75 205.4L319.00 205.1L319.25 204.3L319.50 205.4L319.75 205.9L320.00 204.6L320.25 205.3L320.50 204.8L320.75 205.0L321.00 204.9L321.25 204.2L321.50 204.8L321.75 204.2L322.00 205.8L322.25 205.6L322.50 205.1L322.75 205.2L323.00 205.1L323.25 205.2L323.50 205.2L323.75 204.9L324.00 205.0L324.25 204.3L324.50 204.5L324.75 204.7L325.00 205.2L325.25 204.9L325.50 206.1L325.75 205.0L326.00 204.9L326.25 205.3L326.50 205.6L326.75 205.9L327.00 205.4L327.25 204.4L327.50 204.5L327.75 205.0L328.00 204.3L328.25 204.4L328.50 203.7L328.75 204.4L329.00 204.2L329.25 203.9L329.50 203.4L329.75 202.5L330.00 202.8L330.25 203.9L330.50 204.3L330.75 202.6L331.00 204.1L331.25 205.2L331.50 205.3L331.75 204.6L332.00 205.3L332.25 205.0L332.50 205.0L332.75 205.7L333.00 205.7L333.25 204.8L333.50 204.6L333.75 204.4L334.00 204.4L334.25 205.9L334.50 206.2L334.75 205.3L335.00 205.7L335.25 204.8L335.50 205.1L335.75 205.7L336.00 205.3L336.25 205.1L336.50 204.3L336.75 204.4L337.00 204.9L337.25 204.9L337.50 205.1L337.75 204.8L338.00 205.1L338.25 205.2L338.50 205.5L338.75 205.2L339.00 204.9L339.25 205.0L339.50 205.7L339.75 205.1L340.00 204.7L340.25 204.7L340.50 205.3L340.75 205.5L341.00 205.9L341.25 205.0L341.50 205.9L341.75 205.0L342.00 205.1L342.25 204.9L342.50 205.5L342.75 205.8L343.00 205.2L343.25 205.0L343.50 204.4L343.75 205.3L344.00 205.1L344.25 205.1L344.50 204.9L344.75 204.8L345.00 205.0L345.25 205.5L345.50 205.8L345.75 205.3L346.00 205.5L346.25 205.2L346.50 205.3L346.75 204.6L347.00 205.8L347.25 205.7L347.50 206.2L347.75 205.1L348.00 205.5L348.25 204.9L348.50 205.6L348.75 205.4L349.00 205.8L349.25 205.4L349.50 205.8L349.75 205.2L350.00 205.8L350.25 205.4L350.50 205.3L350.75 205.6L351.00 205.8L351.25 204.8L351.50 204.8L351.75 205.7L352.00 205.6L352.25 204.6L352.50 204.7L352.75 205.3L353.00 205.9L353.25 205.8L353.50 206.2L353.75 206.4L354.00 207.0L354.25 205.0L354.50 205.7L354.75 206.3L355.00 205.1L355.25 205.0L355.50 205.9L355.75 206.4L356.00 206.5L356.25 204.9L356.50 205.2L356.75 205.8L357.00 205.6L357.25 206.1L357.50 206.0L357.75 206.9L358.00 205.9L358.25 206.1L358.50 206.0L358.75 206.6L359.00 205.4L359.25 206.2L359.50 205.6L359.75 205.3L360.00 206.7L360.25 206.4L360.50 206.8L360.75 206.2L361.00 206.5L361.25 206.2L361.50 206.5L361.75 205.9L362.00 207.1L362.25 205.7L362.50 207.1L362.75 206.1L363.00 206.7L363.25 206.3L363.50 206.5L363.75 207.1L364.00 206.4L364.25 205.8L364.50 206.4L364.75 206.7L365.00 205.0L365.25 206.9L365.50 207.0L365.75 205.4L366.00 206.3L366.25 206.9L366.50 205.8L366.75 206.2L367.00 206.3L367.25 206.8L367.50 207.1L367.75 206.5L368.00 206.5L368.25 207.0L368.50 206.8L368.75 206.5L369.00 207.3L369.25 205.8L369.50 206.7L369.75 206.4L370.00 206.3L370.25 206.7L370.50 206.7L370.75 208.0L371.00 207.0L371.25 206.9L371.50 207.6L371.75 207.3L372.00 205.7L372.25 206.8L372.50 207.1L372.75 206.4L373.00 206.9L373.25 206.5L373.50 207.0L373.75 205.9L374.00 205.8L374.25 206.5L374.50 207.0L374.75 207.6L375.00 206.7L375.25 206.5L375.50 207.4L375.75 206.9L376.00 207.9L376.25 206.9L376.50 205.9L376.75 206.5L377.00 206.5L377.25 206.2L377.50 206.6L377.75 206.6L378.00 206.9L378.25 206.7L378.50 207.2L378.75 207.2L379.00 207.0L379.25 206.9L379.50 205.7L379.75 205.6L380.00 205.9L380.25 206.2L380.50 205.0L380.75 205.3L381.00 205.4L381.25 206.1L381.50 205.0L381.75 204.5L382.00 205.4L382.25 205.1L382.50 205.1L382.75 206.2L383.00 205.4L383.25 206.3L383.50 206.6L383.75 207.3L384.00 206.4L384.25 206.5L384.50 207.1L384.75 207.3L385.00 207.5L385.25 207.3L385.50 207.8L385.75 208.0L386.00 207.8L386.25 207.1L386.50 208.3L386.75 206.9L387.00 207.6L387.25 208.2L387.50 207.4L387.75 208.5L388.00 208.9L388.25 208.7L388.50 208.1L388.75 208.4L389.00 207.6L389.25 208.1L389.50 208.2L389.75 208.0L390.00 208.0" fill="none" stroke="#e8262e" stroke-width="2.5" stroke-linejoin="round"/>
<path d="M30.50 263.0L30.75 263.0L31.00 263.0L31.25 263.0L31.50 263.0L31.75 263.0L32.00 263.0L32.25 263.0L32.50 263.0L32.75 263.0L33.00 263.0L33.25 263.0L33.50 263.0L33.75 263.0L34.00 263.0L34.25 263.0L34.50 263.0L34.75 263.0L35.00 263.0L35.25 263.0L35.50 263.0L35.75 263.0L36.00 263.0L36.25 263.0L36.50 263.0L36.75 263.0L37.00 263.0L37.25 263.0L37.50 263.0L37.75 263.0L38.00 263.0L38.25 263.0L38.50 263.0L38.75 263.0L39.00 263.0L39.25 263.0L39.50 263.0L39.75 263.0L40.00 263.0L40.25 263.0L40.50 263.0L40.75 263.0L41.00 263.0L41.25 263.0L41.50 263.0L41.75 263.0L42.00 263.0L42.25 263.0L42.50 263.0L42.75 263.0L43.00 263.0L43.25 263.0L43.50 263.0L43.75 263.0L44.00 263.0L44.25 263.0L44.50 263.0L44.75 263.0L45.00 263.0L45.25 263.0L45.50 263.0L45.75 263.0L46.00 263.0L46.25 263.0L46.50 263.0L46.75 263.0L47.00 263.0L47.25 263.0L47.50 263.0L47.75 263.0L48.00 263.0L48.25 263.0L48.50 263.0L48.75 263.0L49.00 263.0L49.25 263.0L49.50 263.0L49.75 263.0L50.00 263.0L50.25 263.0L50.50 263.0L50.75 263.0L51.00 263.0L51.25 263.0L51.50 263.0L51.75 263.0L52.00 263.0L52.25 263.0L52.50 263.0L52.75 263.0L53.00 263.0L53.25 263.0L53.50 263.0L53.75 263.0L54.00 263.0L54.25 263.0L54.50 263.0L54.75 263.0L55.00 263.0L55.25 263.0L55.50 263.0L55.75 263.0L56.00 263.0L56.25 263.0L56.50 263.0L56.75 263.0L57.00 263.0L57.25 263.0L57.50 263.0L57.75 263.0L58.00 263.0L58.25 263.0L58.50 263.0L58.75 263.0L59.00 263.0L59.25 263.0L59.50 263.0L59.75 263.0L60.00 263.0L60.25 263.0L60.50 263.0L60.75 263.0L61.00 263.0L61.25 263.0L61.50 263.0L61.75 263.0L62.00 263.0L62.25 263.0L62.50 263.0L62.75 263.0L63.00 263.0L63.25 263.0L63.50 263.0L63.75 263.0L64.00 263.0L64.25 263.0L64.50 263.0L64.75 263.0L65.00 263.0L65.25 263.0L65.50 263.0L65.75 263.0L66.00 263.0L66.25 263.0L66.50 263.0L66.75 263.0L67.00 263.0L67.25 263.0L67.50 263.0L67.75 263.0L68.00 263.0L68.25 263.0L68.50 263.0L68.75 263.0L69.00 263.0L69.25 263.0L69.50 263.0L69.75 263.0L70.00 263.0L70.25 263.0L70.50 263.0L70.75 263.0L71.00 263.0L71.25 263.0L71.50 263.0L71.75 263.0L72.00 263.0L72.25 263.0L72.50 263.0L72.75 263.0L73.00 263.0L73.25 263.0L73.50 263.0L73.75 263.0L74.00 263.0L74.25 263.0L74.50 263.0L74.75 263.0L75.00 263.0L75.25 263.0L75.50 263.0L75.75 263.0L76.00 263.0L76.25 263.0L76.50 263.0L76.75 263.0L77.00 263.0L77.25 263.0L77.50 263.0L77.75 263.0L78.00 263.0L78.25 263.0L78.50 263.0L78.75 263.0L79.00 263.0L79.25 263.0L79.50 263.0L79.75 263.0L80.00 263.0L80.25 263.0L80.50 263.0L80.75 263.0L81.00 263.0L81.25 263.0L81.50 263.0L81.75 263.0L82.00 263.0L82.25 263.0L82.50 263.0L82.75 263.0L83.00 263.0L83.25 263.0L83.50 263.0L83.75 263.0L84.00 263.0L84.25 263.0L84.50 263.0L84.75 263.0L85.00 263.0L85.25 263.0L85.50 263.0L85.75 263.0L86.00 263.0L86.25 263.0L86.50 263.0L86.75 263.0L87.00 263.0L87.25 263.0L87.50 263.0L87.75 263.0L88.00 263.0L88.25 263.0L88.50 263.0L88.75 263.0L89.00 263.0L89.25 263.0L89.50 263.0L89.75 263.0L90.00 263.0L90.25 263.0L90.50 263.0L90.75 263.0L91.00 263.0L91.25 263.0L91.50 263.0L91.75 263.0L92.00 263.0L92.25 263.0L92.50 263.0L92.75 263.0L93.00 263.0L93.25 263.0L93.50 263.0L93.75 263.0L94.00 263.0L94.25 263.0L94.50 263.0L94.75 263.0L95.00 263.0L95.25 263.0L95.50 263.0L95.75 263.0L96.00 263.0L96.25 263.0L96.50 263.0L96.75 263.0L97.00 263.0L97.25 263.0L97.50 263.0L97.75 263.0L98.00 263.0L98.25 263.0L98.50 263.0L98.75 263.0L99.00 263.0L99.25 263.0L99.50 262.9L99.75 262.6L100.00 262.2L100.25 261.7L100.50 261.4L100.75 261.5L101.00 261.8L101.25 262.3L101.50 262.7L101.75 262.9L102.00 263.0L102.25 263.0L102.50 263.0L102.75 263.0L103.00 263.0L103.25 263.0L103.50 263.0L103.75 263.0L104.00 263.0L104.25 263.0L104.50 263.0L104.75 263.0L105.00 263.0L105.25 263.0L105.50 263.0L105.75 263.0L106.00 263.0L106.25 263.0L106.50 263.0L106.75 263.0L107.00 263.0L107.25 263.0L107.50 263.0L107.75 263.0L108.00 263.0L108.25 263.0L108.50 263.0L108.75 263.0L109.00 263.0L109.25 263.0L109.50 263.0L109.75 263.0L110.00 263.0L110.25 263.0L110.50 263.0L110.75 263.0L111.00 263.0L111.25 263.0L111.50 263.0L111.75 263.0L112.00 262.9L112.25 261.8L112.50 256.6L112.75 242.4L113.00 223.1L113.25 216.5L113.50 230.4L113.75 249.3L114.00 259.6L114.25 262.5L114.50 263.0L114.75 263.0L115.00 263.0L115.25 263.0L115.50 263.0L115.75 263.0L116.00 263.0L116.25 263.0L116.50 263.0L116.75 263.0L117.00 263.0L117.25 263.0L117.50 263.0L117.75 263.0L118.00 263.0L118.25 263.0L118.50 263.0L118.75 263.0L119.00 263.0L119.25 263.0L119.50 263.0L119.75 263.0L120.00 263.0L120.25 263.0L120.50 263.0L120.75 263.0L121.00 263.0L121.25 263.0L121.50 263.0L121.75 263.0L122.00 263.0L122.25 263.0L122.50 263.0L122.75 263.0L123.00 263.0L123.25 263.0L123.50 263.0L123.75 263.0L124.00 263.0L124.25 263.0L124.50 263.0L124.75 263.0L125.00 263.0L125.25 263.0L125.50 263.0L125.75 263.0L126.00 263.0L126.25 263.0L126.50 263.0L126.75 263.0L127.00 263.0L127.25 263.0L127.50 263.0L127.75 263.0L128.00 263.0L128.25 263.0L128.50 263.0L128.75 263.0L129.00 263.0L129.25 263.0L129.50 263.0L129.75 263.0L130.00 263.0L130.25 263.0L130.50 263.0L130.75 263.0L131.00 263.0L131.25 263.0L131.50 263.0L131.75 263.0L132.00 263.0L132.25 263.0L132.50 263.0L132.75 263.0L133.00 263.0L133.25 263.0L133.50 263.0L133.75 263.0L134.00 263.0L134.25 263.0L134.50 263.0L134.75 263.0L135.00 263.0L135.25 263.0L135.50 263.0L135.75 263.0L136.00 263.0L136.25 263.0L136.50 263.0L136.75 263.0L137.00 263.0L137.25 263.0L137.50 263.0L137.75 263.0L138.00 263.0L138.25 263.0L138.50 263.0L138.75 263.0L139.00 263.0L139.25 263.0L139.50 263.0L139.75 263.0L140.00 263.0L140.25 263.0L140.50 263.0L140.75 263.0L141.00 263.0L141.25 263.0L141.50 263.0L141.75 263.0L142.00 263.0L142.25 263.0L142.50 263.0L142.75 263.0L143.00 263.0L143.25 263.0L143.50 263.0L143.75 263.0L144.00 263.0L144.25 263.0L144.50 263.0L144.75 263.0L145.00 263.0L145.25 263.0L145.50 263.0L145.75 263.0L146.00 263.0L146.25 263.0L146.50 263.0L146.75 263.0L147.00 263.0L147.25 263.0L147.50 263.0L147.75 263.0L148.00 263.0L148.25 263.0L148.50 263.0L148.75 263.0L149.00 263.0L149.25 263.0L149.50 263.0L149.75 263.0L150.00 263.0L150.25 263.0L150.50 263.0L150.75 263.0L151.00 263.0L151.25 263.0L151.50 263.0L151.75 263.0L152.00 263.0L152.25 263.0L152.50 263.0L152.75 263.0L153.00 263.0L153.25 263.0L153.50 263.0L153.75 263.0L154.00 263.0L154.25 263.0L154.50 263.0L154.75 263.0L155.00 263.0L155.25 263.0L155.50 263.0L155.75 263.0L156.00 263.0L156.25 263.0L156.50 263.0L156.75 263.0L157.00 263.0L157.25 263.0L157.50 263.0L157.75 263.0L158.00 263.0L158.25 263.0L158.50 263.0L158.75 263.0L159.00 263.0L159.25 263.0L159.50 263.0L159.75 263.0L160.00 263.0L160.25 263.0L160.50 263.0L160.75 263.0L161.00 263.0L161.25 263.0L161.50 263.0L161.75 263.0L162.00 263.0L162.25 263.0L162.50 263.0L162.75 263.0L163.00 263.0L163.25 263.0L163.50 263.0L163.75 263.0L164.00 263.0L164.25 263.0L164.50 263.0L164.75 263.0L165.00 263.0L165.25 263.0L165.50 263.0L165.75 263.0L166.00 263.0L166.25 263.0L166.50 263.0L166.75 263.0L167.00 263.0L167.25 263.0L167.50 263.0L167.75 263.0L168.00 263.0L168.25 263.0L168.50 263.0L168.75 263.0L169.00 263.0L169.25 263.0L169.50 263.0L169.75 263.0L170.00 263.0L170.25 263.0L170.50 263.0L170.75 263.0L171.00 263.0L171.25 263.0L171.50 263.0L171.75 263.0L172.00 263.0L172.25 263.0L172.50 263.0L172.75 263.0L173.00 263.0L173.25 263.0L173.50 263.0L173.75 263.0L174.00 263.0L174.25 263.0L174.50 263.0L174.75 263.0L175.00 263.0L175.25 263.0L175.50 263.0L175.75 263.0L176.00 263.0L176.25 263.0L176.50 263.0L176.75 263.0L177.00 263.0L177.25 263.0L177.50 263.0L177.75 263.0L178.00 263.0L178.25 263.0L178.50 263.0L178.75 263.0L179.00 263.0L179.25 263.0L179.50 263.0L179.75 263.0L180.00 263.0L180.25 263.0L180.50 263.0L180.75 263.0L181.00 263.0L181.25 263.0L181.50 263.0L181.75 263.0L182.00 263.0L182.25 263.0L182.50 263.0L182.75 263.0L183.00 263.0L183.25 263.0L183.50 263.0L183.75 263.0L184.00 263.0L184.25 263.0L184.50 263.0L184.75 263.0L185.00 263.0L185.25 263.0L185.50 263.0L185.75 263.0L186.00 263.0L186.25 263.0L186.50 263.0L186.75 263.0L187.00 263.0L187.25 263.0L187.50 263.0L187.75 263.0L188.00 263.0L188.25 263.0L188.50 263.0L188.75 263.0L189.00 263.0L189.25 263.0L189.50 263.0L189.75 263.0L190.00 263.0L190.25 263.0L190.50 263.0L190.75 263.0L191.00 263.0L191.25 263.0L191.50 263.0L191.75 263.0L192.00 263.0L192.25 263.0L192.50 263.0L192.75 263.0L193.00 263.0L193.25 263.0L193.50 263.0L193.75 263.0L194.00 263.0L194.25 263.0L194.50 263.0L194.75 263.0L195.00 263.0L195.25 263.0L195.50 263.0L195.75 263.0L196.00 263.0L196.25 263.0L196.50 263.0L196.75 263.0L197.00 263.0L197.25 262.7L197.50 261.0L197.75 255.1L198.00 244.3L198.25 236.3L198.50 240.1L198.75 251.2L199.00 259.3L199.25 262.3L199.50 262.9L199.75 263.0L200.00 263.0L200.25 263.0L200.50 263.0L200.75 263.0L201.00 263.0L201.25 263.0L201.50 263.0L201.75 263.0L202.00 263.0L202.25 263.0L202.50 263.0L202.75 263.0L203.00 263.0L203.25 263.0L203.50 263.0L203.75 263.0L204.00 263.0L204.25 263.0L204.50 263.0L204.75 263.0L205.00 263.0L205.25 263.0L205.50 263.0L205.75 263.0L206.00 263.0L206.25 263.0L206.50 263.0L206.75 263.0L207.00 263.0L207.25 263.0L207.50 263.0L207.75 263.0L208.00 263.0L208.25 263.0L208.50 263.0L208.75 263.0L209.00 263.0L209.25 263.0L209.50 263.0L209.75 263.0L210.00 263.0L210.25 263.0L210.50 263.0L210.75 263.0L211.00 263.0L211.25 263.0L211.50 263.0L211.75 263.0L212.00 263.0L212.25 263.0L212.50 263.0L212.75 263.0L213.00 263.0L213.25 263.0L213.50 263.0L213.75 263.0L214.00 263.0L214.25 263.0L214.50 263.0L214.75 263.0L215.00 263.0L215.25 263.0L215.50 263.0L215.75 263.0L216.00 263.0L216.25 263.0L216.50 263.0L216.75 263.0L217.00 263.0L217.25 263.0L217.50 263.0L217.75 263.0L218.00 263.0L218.25 263.0L218.50 263.0L218.75 263.0L219.00 263.0L219.25 263.0L219.50 263.0L219.75 263.0L220.00 263.0L220.25 263.0L220.50 263.0L220.75 263.0L221.00 263.0L221.25 263.0L221.50 263.0L221.75 263.0L222.00 263.0L222.25 263.0L222.50 263.0L222.75 263.0L223.00 263.0L223.25 263.0L223.50 263.0L223.75 263.0L224.00 263.0L224.25 263.0L224.50 263.0L224.75 263.0L225.00 263.0L225.25 263.0L225.50 263.0L225.75 263.0L226.00 263.0L226.25 263.0L226.50 263.0L226.75 263.0L227.00 263.0L227.25 263.0L227.50 263.0L227.75 263.0L228.00 263.0L228.25 263.0L228.50 263.0L228.75 263.0L229.00 263.0L229.25 263.0L229.50 263.0L229.75 263.0L230.00 263.0L230.25 263.0L230.50 263.0L230.75 263.0L231.00 263.0L231.25 263.0L231.50 263.0L231.75 263.0L232.00 263.0L232.25 263.0L232.50 263.0L232.75 263.0L233.00 263.0L233.25 263.0L233.50 263.0L233.75 263.0L234.00 263.0L234.25 263.0L234.50 263.0L234.75 263.0L235.00 263.0L235.25 263.0L235.50 263.0L235.75 263.0L236.00 263.0L236.25 263.0L236.50 263.0L236.75 262.9L237.00 262.0L237.25 259.2L237.50 254.0L237.75 250.1L238.00 252.0L238.25 257.3L238.50 261.2L238.75 262.7L239.00 263.0L239.25 263.0L239.50 263.0L239.75 263.0L240.00 263.0L240.25 263.0L240.50 263.0L240.75 263.0L241.00 263.0L241.25 263.0L241.50 263.0L241.75 263.0L242.00 263.0L242.25 263.0L242.50 263.0L242.75 263.0L243.00 263.0L243.25 263.0L243.50 263.0L243.75 263.0L244.00 263.0L244.25 263.0L244.50 263.0L244.75 263.0L245.00 263.0L245.25 263.0L245.50 263.0L245.75 263.0L246.00 263.0L246.25 263.0L246.50 263.0L246.75 263.0L247.00 263.0L247.25 263.0L247.50 263.0L247.75 263.0L248.00 263.0L248.25 263.0L248.50 263.0L248.75 263.0L249.00 263.0L249.25 263.0L249.50 263.0L249.75 263.0L250.00 263.0L250.25 263.0L250.50 263.0L250.75 263.0L251.00 263.0L251.25 263.0L251.50 263.0L251.75 263.0L252.00 263.0L252.25 263.0L252.50 263.0L252.75 263.0L253.00 263.0L253.25 263.0L253.50 263.0L253.75 263.0L254.00 263.0L254.25 263.0L254.50 263.0L254.75 263.0L255.00 263.0L255.25 263.0L255.50 263.0L255.75 263.0L256.00 263.0L256.25 263.0L256.50 263.0L256.75 263.0L257.00 263.0L257.25 263.0L257.50 263.0L257.75 263.0L258.00 263.0L258.25 263.0L258.50 263.0L258.75 263.0L259.00 263.0L259.25 263.0L259.50 263.0L259.75 263.0L260.00 263.0L260.25 263.0L260.50 263.0L260.75 263.0L261.00 263.0L261.25 263.0L261.50 263.0L261.75 263.0L262.00 263.0L262.25 263.0L262.50 263.0L262.75 263.0L263.00 263.0L263.25 263.0L263.50 263.0L263.75 263.0L264.00 263.0L264.25 263.0L264.50 263.0L264.75 263.0L265.00 263.0L265.25 263.0L265.50 263.0L265.75 263.0L266.00 263.0L266.25 263.0L266.50 263.0L266.75 263.0L267.00 263.0L267.25 263.0L267.50 263.0L267.75 263.0L268.00 263.0L268.25 263.0L268.50 263.0L268.75 263.0L269.00 263.0L269.25 263.0L269.50 263.0L269.75 263.0L270.00 263.0L270.25 263.0L270.50 263.0L270.75 263.0L271.00 263.0L271.25 263.0L271.50 263.0L271.75 263.0L272.00 263.0L272.25 263.0L272.50 263.0L272.75 263.0L273.00 263.0L273.25 263.0L273.50 263.0L273.75 263.0L274.00 263.0L274.25 263.0L274.50 263.0L274.75 263.0L275.00 263.0L275.25 263.0L275.50 263.0L275.75 263.0L276.00 263.0L276.25 263.0L276.50 263.0L276.75 263.0L277.00 263.0L277.25 263.0L277.50 263.0L277.75 263.0L278.00 263.0L278.25 263.0L278.50 263.0L278.75 263.0L279.00 263.0L279.25 263.0L279.50 263.0L279.75 263.0L280.00 263.0L280.25 263.0L280.50 263.0L280.75 263.0L281.00 263.0L281.25 263.0L281.50 263.0L281.75 263.0L282.00 263.0L282.25 263.0L282.50 263.0L282.75 263.0L283.00 263.0L283.25 263.0L283.50 263.0L283.75 263.0L284.00 263.0L284.25 263.0L284.50 263.0L284.75 263.0L285.00 263.0L285.25 263.0L285.50 263.0L285.75 263.0L286.00 263.0L286.25 263.0L286.50 263.0L286.75 263.0L287.00 263.0L287.25 263.0L287.50 263.0L287.75 263.0L288.00 263.0L288.25 263.0L288.50 263.0L288.75 263.0L289.00 263.0L289.25 263.0L289.50 263.0L289.75 263.0L290.00 263.0L290.25 263.0L290.50 263.0L290.75 263.0L291.00 263.0L291.25 263.0L291.50 263.0L291.75 263.0L292.00 263.0L292.25 263.0L292.50 263.0L292.75 263.0L293.00 263.0L293.25 263.0L293.50 263.0L293.75 263.0L294.00 263.0L294.25 263.0L294.50 263.0L294.75 263.0L295.00 263.0L295.25 262.9L295.50 262.5L295.75 261.8L296.00 260.9L296.25 260.4L296.50 260.6L296.75 261.2L297.00 261.7L297.25 262.1L297.50 262.5L297.75 262.8L298.00 262.9L298.25 263.0L298.50 263.0L298.75 263.0L299.00 263.0L299.25 263.0L299.50 263.0L299.75 263.0L300.00 263.0L300.25 263.0L300.50 263.0L300.75 263.0L301.00 263.0L301.25 263.0L301.50 263.0L301.75 263.0L302.00 263.0L302.25 263.0L302.50 263.0L302.75 263.0L303.00 263.0L303.25 263.0L303.50 263.0L303.75 263.0L304.00 263.0L304.25 263.0L304.50 263.0L304.75 263.0L305.00 263.0L305.25 263.0L305.50 263.0L305.75 263.0L306.00 263.0L306.25 263.0L306.50 263.0L306.75 263.0L307.00 263.0L307.25 263.0L307.50 263.0L307.75 263.0L308.00 263.0L308.25 263.0L308.50 263.0L308.75 263.0L309.00 263.0L309.25 263.0L309.50 263.0L309.75 263.0L310.00 263.0L310.25 263.0L310.50 263.0L310.75 263.0L311.00 263.0L311.25 263.0L311.50 263.0L311.75 263.0L312.00 263.0L312.25 263.0L312.50 263.0L312.75 263.0L313.00 263.0L313.25 263.0L313.50 263.0L313.75 263.0L314.00 263.0L314.25 263.0L314.50 263.0L314.75 263.0L315.00 263.0L315.25 263.0L315.50 263.0L315.75 263.0L316.00 263.0L316.25 263.0L316.50 263.0L316.75 263.0L317.00 263.0L317.25 263.0L317.50 263.0L317.75 263.0L318.00 263.0L318.25 263.0L318.50 263.0L318.75 263.0L319.00 263.0L319.25 263.0L319.50 263.0L319.75 263.0L320.00 263.0L320.25 263.0L320.50 263.0L320.75 263.0L321.00 263.0L321.25 263.0L321.50 263.0L321.75 263.0L322.00 263.0L322.25 263.0L322.50 263.0L322.75 263.0L323.00 263.0L323.25 263.0L323.50 263.0L323.75 263.0L324.00 263.0L324.25 263.0L324.50 263.0L324.75 263.0L325.00 263.0L325.25 263.0L325.50 263.0L325.75 263.0L326.00 263.0L326.25 263.0L326.50 263.0L326.75 263.0L327.00 263.0L327.25 263.0L327.50 262.9L327.75 262.6L328.00 261.9L328.25 260.6L328.50 259.5L328.75 259.4L329.00 260.1L329.25 260.8L329.50 261.2L329.75 261.4L330.00 261.8L330.25 262.3L330.50 262.7L330.75 262.9L331.00 263.0L331.25 263.0L331.50 263.0L331.75 263.0L332.00 263.0L332.25 263.0L332.50 263.0L332.75 263.0L333.00 263.0L333.25 263.0L333.50 263.0L333.75 263.0L334.00 263.0L334.25 263.0L334.50 263.0L334.75 263.0L335.00 263.0L335.25 263.0L335.50 263.0L335.75 263.0L336.00 263.0L336.25 263.0L336.50 263.0L336.75 263.0L337.00 263.0L337.25 263.0L337.50 263.0L337.75 263.0L338.00 263.0L338.25 263.0L338.50 263.0L338.75 263.0L339.00 263.0L339.25 263.0L339.50 263.0L339.75 263.0L340.00 263.0L340.25 263.0L340.50 263.0L340.75 263.0L341.00 263.0L341.25 263.0L341.50 263.0L341.75 263.0L342.00 263.0L342.25 263.0L342.50 263.0L342.75 263.0L343.00 263.0L343.25 263.0L343.50 263.0L343.75 263.0L344.00 263.0L344.25 263.0L344.50 263.0L344.75 263.0L345.00 263.0L345.25 263.0L345.50 263.0L345.75 263.0L346.00 263.0L346.25 263.0L346.50 263.0L346.75 263.0L347.00 263.0L347.25 263.0L347.50 263.0L347.75 263.0L348.00 263.0L348.25 263.0L348.50 263.0L348.75 263.0L349.00 263.0L349.25 263.0L349.50 263.0L349.75 263.0L350.00 263.0L350.25 263.0L350.50 263.0L350.75 263.0L351.00 263.0L351.25 263.0L351.50 263.0L351.75 263.0L352.00 263.0L352.25 263.0L352.50 263.0L352.75 263.0L353.00 263.0L353.25 263.0L353.50 263.0L353.75 263.0L354.00 263.0L354.25 263.0L354.50 263.0L354.75 263.0L355.00 263.0L355.25 263.0L355.50 263.0L355.75 263.0L356.00 263.0L356.25 263.0L356.50 263.0L356.75 263.0L357.00 263.0L357.25 263.0L357.50 263.0L357.75 263.0L358.00 263.0L358.25 263.0L358.50 263.0L358.75 263.0L359.00 263.0L359.25 263.0L359.50 263.0L359.75 263.0L360.00 263.0L360.25 263.0L360.50 263.0L360.75 263.0L361.00 263.0L361.25 263.0L361.50 263.0L361.75 263.0L362.00 263.0L362.25 263.0L362.50 263.0L362.75 263.0L363.00 263.0L363.25 263.0L363.50 263.0L363.75 263.0L364.00 263.0L364.25 263.0L364.50 263.0L364.75 263.0L365.00 263.0L365.25 263.0L365.50 263.0L365.75 263.0L366.00 263.0L366.25 263.0L366.50 263.0L366.75 263.0L367.00 263.0L367.25 263.0L367.50 263.0L367.75 263.0L368.00 263.0L368.25 263.0L368.50 263.0L368.75 263.0L369.00 263.0L369.25 263.0L369.50 263.0L369.75 263.0L370.00 263.0L370.25 263.0L370.50 263.0L370.75 263.0L371.00 263.0L371.25 263.0L371.50 263.0L371.75 263.0L372.00 263.0L372.25 263.0L372.50 263.0L372.75 263.0L373.00 263.0L373.25 263.0L373.50 263.0L373.75 263.0L374.00 263.0L374.25 263.0L374.50 263.0L374.75 263.0L375.00 263.0L375.25 263.0L375.50 263.0L375.75 263.0L376.00 263.0L376.25 263.0L376.50 263.0L376.75 263.0L377.00 263.0L377.25 263.0L377.50 263.0L377.75 263.0L378.00 263.0L378.25 263.0L378.50 263.0L378.75 263.0L379.00 263.0L379.25 262.9L379.50 262.8L379.75 262.2L380.00 261.1L380.25 259.6L380.50 258.4L380.75 258.4L381.00 259.3L381.25 260.2L381.50 260.5L381.75 260.6L382.00 260.9L382.25 261.5L382.50 262.2L382.75 262.6L383.00 262.9L383.25 263.0L383.50 263.0L383.75 263.0L384.00 263.0L384.25 263.0L384.50 263.0L384.75 263.0L385.00 263.0L385.25 263.0L385.50 263.0L385.75 263.0L386.00 263.0L386.25 263.0L386.50 263.0L386.75 263.0L387.00 263.0L387.25 263.0L387.50 263.0L387.75 263.0L388.00 263.0L388.25 263.0L388.50 263.0L388.75 263.0L389.00 263.0L389.25 263.0L389.50 263.0L389.75 263.0L390.00 263.0" fill="none" stroke="#3a3a3a" stroke-width="1.3" stroke-linejoin="round"/>
<g fill="#3d68c4" stroke="#2d54a8" stroke-width="0.8">
<rect x="147.4" y="91.7" width="7.2" height="8.2"/>
<rect x="189.4" y="91.4" width="7.2" height="7.8"/>
<rect x="283.4" y="93.7" width="7.2" height="8.2"/>
</g>
<rect x="179.5" y="94.8" width="7" height="7.2" fill="#fff" stroke="#333" stroke-width="1.2"/>
<path d="M30.50 269V263.00M52.95 269V266.00M75.40 269V263.00M97.85 269V266.00M120.30 269V263.00M142.75 269V266.00M165.20 269V263.00M187.65 269V266.00M210.10 269V263.00M232.55 269V266.00M255.00 269V263.00M277.45 269V266.00M299.90 269V263.00M322.35 269V266.00M344.80 269V263.00M367.25 269V266.00M389.70 269V263.00M30.5 15.85H33.50M30.5 30.40H36.00M30.5 44.95H33.50M30.5 59.50H36.00M30.5 74.05H33.50M30.5 88.60H36.00M30.5 103.15H33.50M30.5 117.70H36.00M30.5 132.25H33.50M30.5 146.80H36.00M30.5 161.35H33.50M30.5 175.90H36.00M30.5 190.45H33.50M30.5 205.00H36.00M30.5 219.55H33.50M30.5 234.10H36.00M30.5 248.65H33.50M30.5 263.20H36.00" stroke="#2a2a2a" stroke-width="1.1" fill="none"/>
<rect x="30.5" y="1.5" width="363.2" height="267.3" fill="none" stroke="#2a2a2a" stroke-width="1.2"/>
<g font-family="Liberation Sans, sans-serif" font-weight="bold" fill="#111">
<g font-size="16.4" text-anchor="middle"><text transform="translate(30.20,288.3) scale(1.07,1)">10</text><text transform="translate(75.10,288.3) scale(1.07,1)">20</text><text transform="translate(120.00,288.3) scale(1.07,1)">30</text><text transform="translate(164.90,288.3) scale(1.07,1)">40</text><text transform="translate(209.80,288.3) scale(1.07,1)">50</text><text transform="translate(254.70,288.3) scale(1.07,1)">60</text><text transform="translate(299.60,288.3) scale(1.07,1)">70</text><text transform="translate(344.50,288.3) scale(1.07,1)">80</text><text transform="translate(389.40,288.3) scale(1.07,1)">90</text></g>
<text transform="translate(97.2,15.8) scale(1.04,1)" font-size="13.8">Si(111)</text>
<text x="161.5" y="45.6" font-size="12.5">Al</text>
<text transform="translate(180.5,59.4) scale(1.07,1)" font-size="13">Si (220)</text>
<text transform="translate(224.7,91.3) scale(1.06,1)" font-size="13.2">Si(311)</text>
<text transform="translate(289.7,78.2) scale(1.04,1)" font-size="13.5">Si (400)</text>
<text x="339" y="106.5" font-size="14">700<tspan dy="-4.4" font-size="10.5">o</tspan><tspan dy="4.4">c</tspan></text>
<text x="343" y="192.6" font-size="14">650<tspan dy="-4.4" font-size="10.5">o</tspan><tspan dy="4.4">c</tspan></text>
<text x="255.3" y="239.8" font-size="13.7">Si-Ref (00-027-1402)</text>
<text transform="translate(18,201.3) rotate(-90)" font-size="22.6">Intensity (a.u.)</text>
<text x="143.5" y="311" font-size="21.3">2<tspan dx="2" dy="0.8" font-family="Liberation Serif, serif" font-style="italic" font-weight="normal" font-size="22.8" textLength="12.5" lengthAdjust="spacingAndGlyphs">θ</tspan><tspan dx="3" dy="-0.8" font-weight="normal" font-family="Liberation Serif, serif" font-size="22.5">(</tspan><tspan dx="1">degree)</tspan></text>
</g>
<rect x="311.2" y="22.6" width="7.2" height="6.6" fill="#fff" stroke="#333" stroke-width="1"/><rect x="311.1" y="40.6" width="7.2" height="8" fill="#3d68c4" stroke="#2d54a8" stroke-width="0.8"/><g fill="#111" font-family="Liberation Sans, sans-serif" font-size="14.2"><text transform="scale(1.10,1)"><tspan x="293.82" y="30.50">β</tspan><tspan x="302.36" y="30.50" font-size="11.5">– </tspan><tspan x="311.73" y="30.50">Al</tspan><tspan x="323.91" y="34.80" font-size="13.0">2</tspan><tspan x="330.45" y="30.50" font-size="14.6">O</tspan><tspan x="342.36" y="34.80" font-size="13.0">3</tspan></text><text transform="scale(1.10,1)"><tspan x="291.45" y="49.00" font-size="15.5" font-family="Liberation Serif, serif">γ</tspan><tspan x="298.45" y="49.00" font-size="12.0">– </tspan><tspan x="309.09" y="48.70">Al</tspan><tspan x="321.27" y="53.00" font-size="13.0">2</tspan><tspan x="327.18" y="48.70" font-size="14.6">O</tspan><tspan x="339.18" y="53.00" font-size="13.0">3</tspan></text></g></svg>
</body></html>
